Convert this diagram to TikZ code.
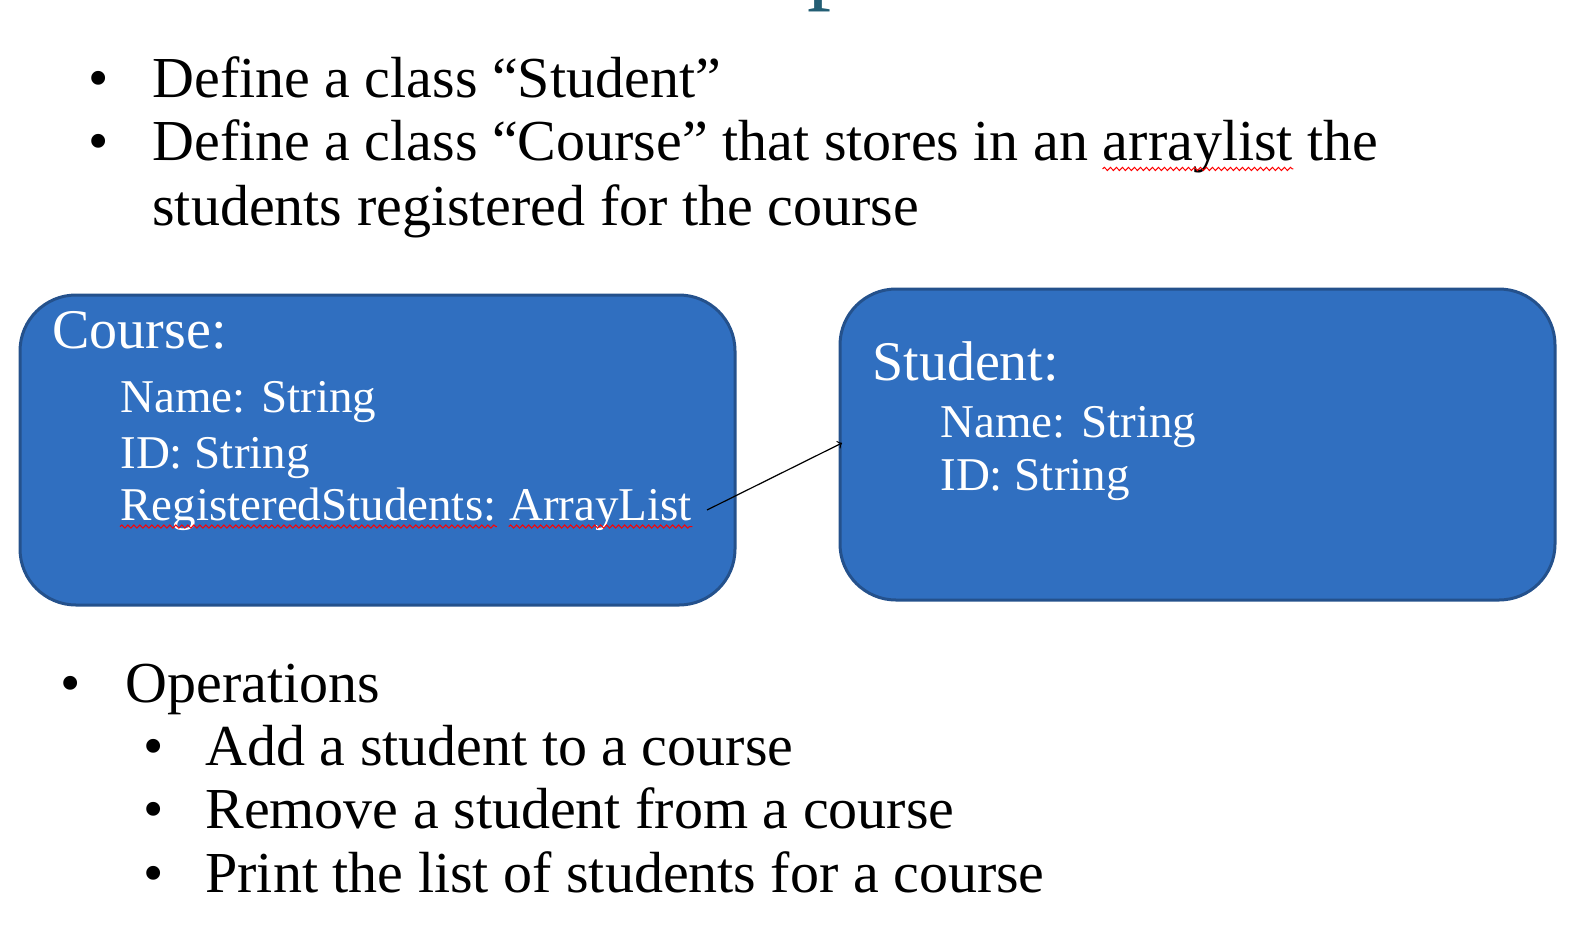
\documentclass[tikz,border=0pt]{standalone}
\usepackage{fontspec}
\setmainfont{Liberation Serif}
\usetikzlibrary{decorations.pathmorphing}
\definecolor{boxfill}{HTML}{306FC0}
\definecolor{boxline}{HTML}{24518C}
\definecolor{titlec}{HTML}{235E74}
\begin{document}
\begin{tikzpicture}[x=0.5pt,y=-0.5pt,
  body/.style={anchor=base west,inner sep=0,font=\fontsize{29}{35}\selectfont},
  boxhead/.style={anchor=base west,inner sep=0,text=white,font=\fontsize{28}{34}\selectfont},
  boxtxt/.style={anchor=base west,inner sep=0,text=white,font=\fontsize{23.5}{28}\selectfont},
  classbox/.style={draw=boxline,line width=1.5pt,fill=boxfill,rounded corners=28pt},
  squig/.style={red,line width=0.5pt,decorate,decoration={snake,amplitude=0.8pt,segment length=3pt}}]
\useasboundingbox (0,0) rectangle (1594,932);
\clip (0,0) rectangle (1594,932);
\node[anchor=base,inner sep=0,text=titlec,font=\fontsize{48}{56}\selectfont] (title) at (790,-9) {Example 3};
% bullets top
\node[body] (b1) at (88,97) {•};
\node[body] (t1) at (152,97) {Define a class “Student”};
\node[body] (b2) at (88,160) {•};
\node[body] (t2) at (152,160) {Define a class “Course” that stores in an};
\node[body] (t2b) at ([xshift=7pt]t2.base east) {arraylist};
\node[body] (t2c) at ([xshift=7pt]t2b.base east) {the};
\draw[squig] ([yshift=2pt]t2b.south west) -- ([yshift=2pt]t2b.south east);
\node[body] (t3) at (152,225) {students registered for the course};
% boxes
\draw[classbox] (20,295) rectangle (735,605);
\draw[classbox] (840,289) rectangle (1555,600);
\node[boxhead] (ch) at (52,348) {Course:};
\node[boxtxt] (c1) at (120,412) {Name: String};
\node[boxtxt] (c2) at (120,468) {ID: String};
\node[boxtxt] (c3) at (120,520) {RegisteredStudents:};
\node[boxtxt] (c3b) at ([xshift=6pt]c3.base east) {ArrayList};
\draw[squig] ([yshift=2pt]c3.south west) -- ([yshift=2pt]c3.south east);
\draw[squig] ([yshift=2pt]c3b.south west) -- ([yshift=2pt]c3b.south east);
\node[boxhead] (sh) at (872,380) {Student:};
\node[boxtxt] (s1) at (940,437) {Name: String};
\node[boxtxt] (s2) at (940,490) {ID: String};
\coordinate (afrom) at (707,510);
\coordinate (ato) at (842,443);
\draw[->,line width=0.6pt] (afrom) -- (ato);
% operations
\node[body] (b4) at (60,702) {•};
\node[body] (t4) at (125,702) {Operations};
\node[body] (b5) at (143,765) {•};
\node[body] (t5) at (205,765) {Add a student to a course};
\node[body] (b6) at (143,828) {•};
\node[body] (t6) at (205,828) {Remove a student from a course};
\node[body] (b7) at (143,892) {•};
\node[body] (t7) at (205,892) {Print the list of students for a course};
\end{tikzpicture}
\end{document}
